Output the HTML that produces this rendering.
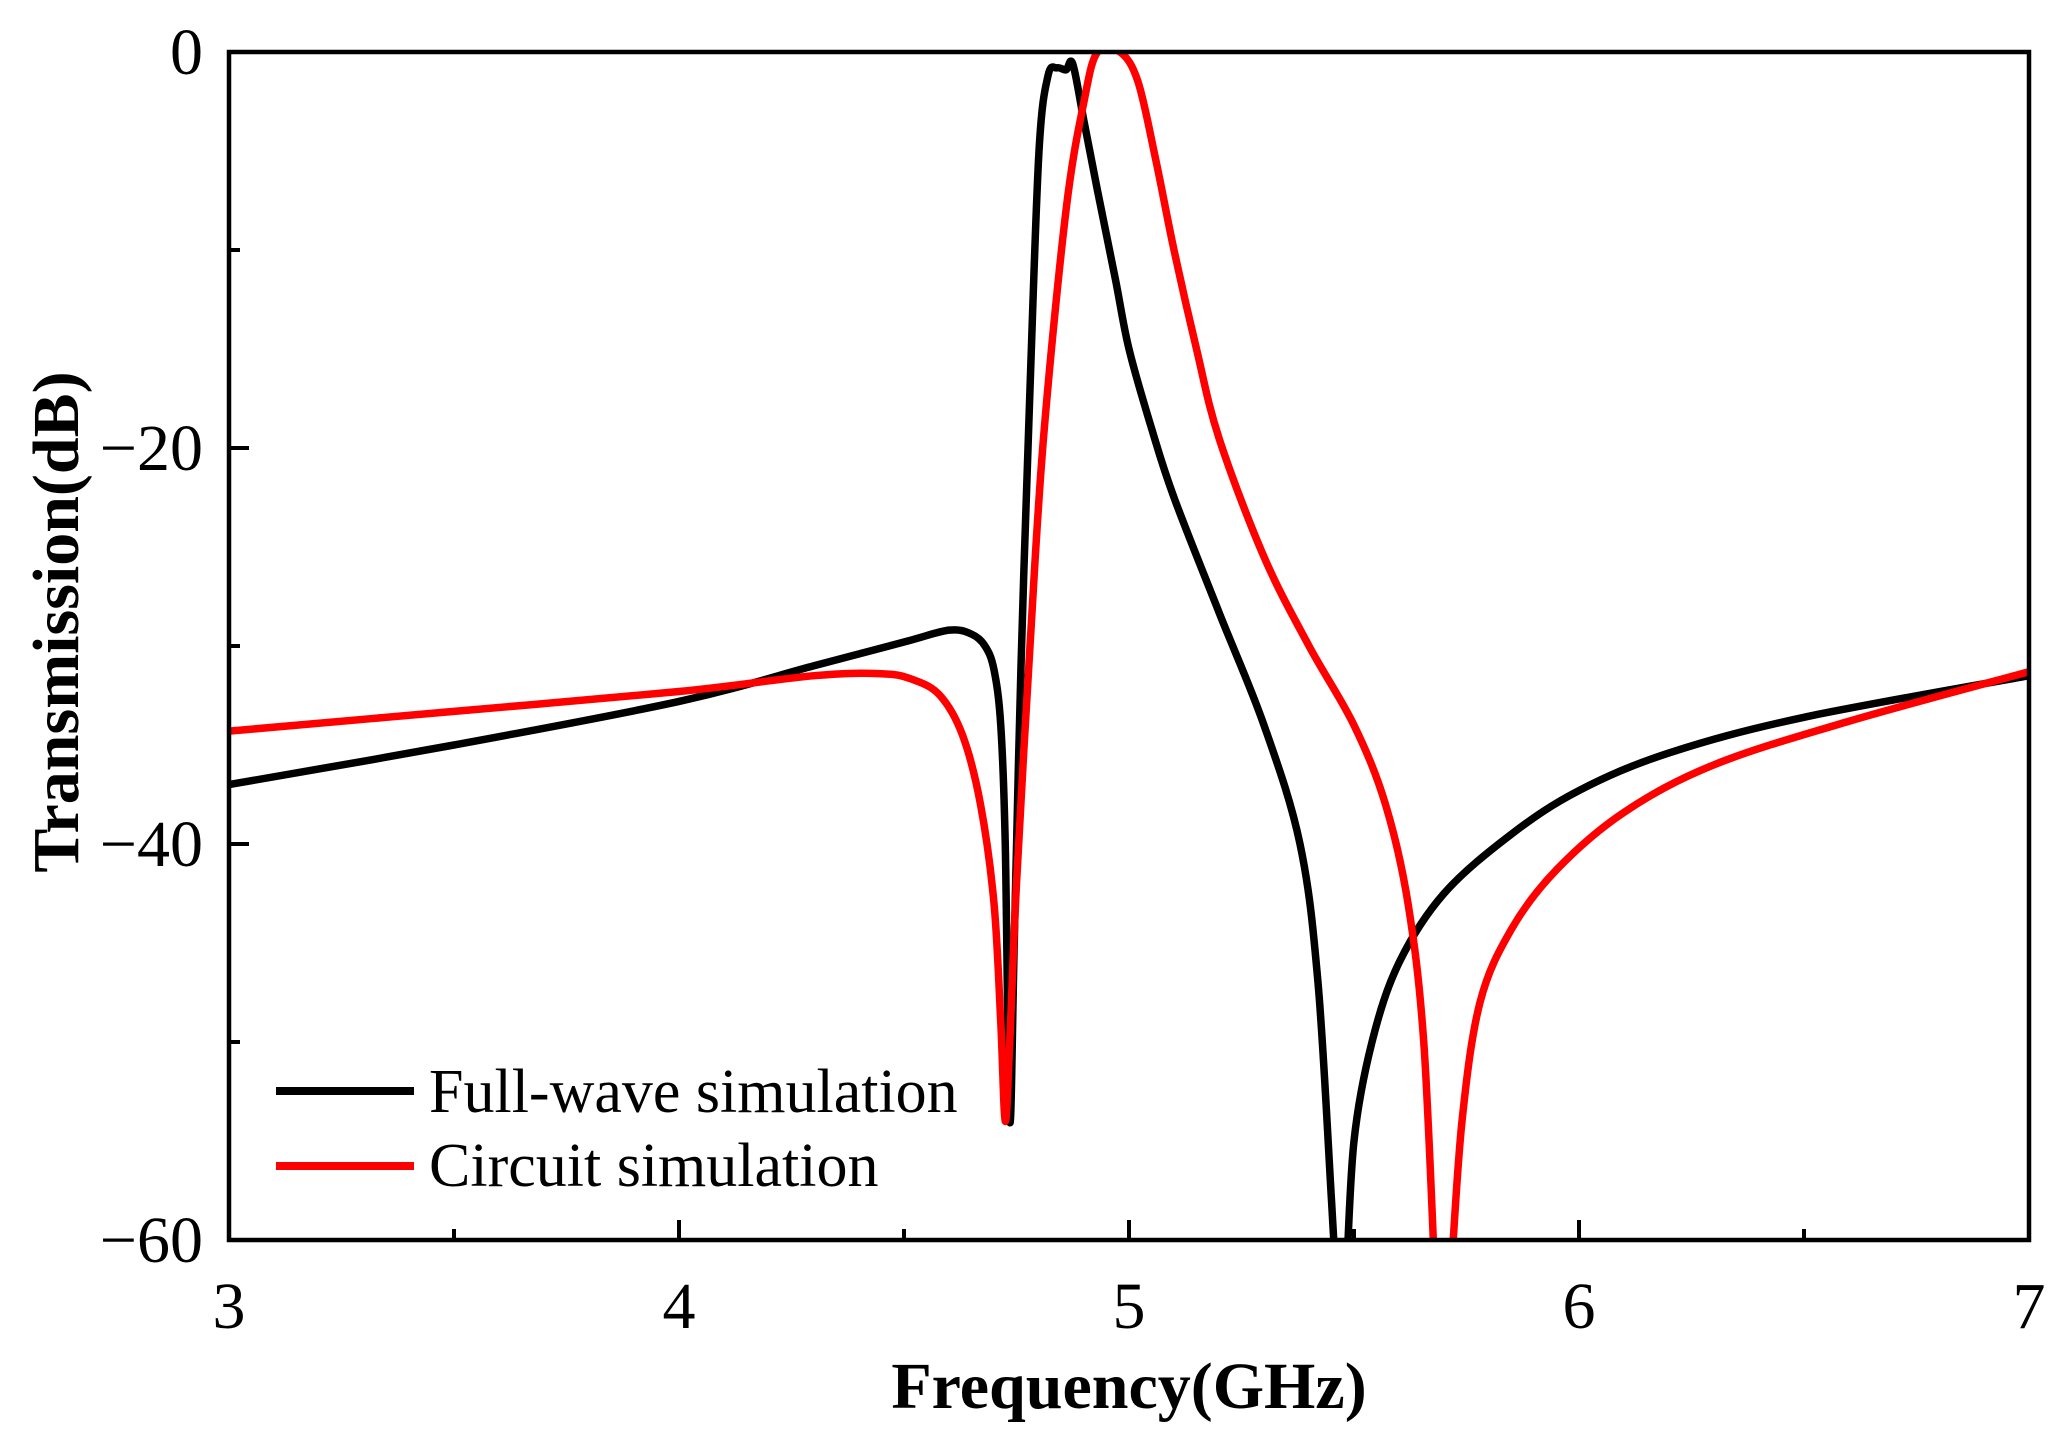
<!DOCTYPE html>
<html><head><meta charset="utf-8"><style>
html,body{margin:0;padding:0;background:#fff}
svg{display:block}
text{font-family:"Liberation Serif",serif;fill:#000}
</style></head><body>
<svg id="s" width="2072" height="1436" viewBox="0 0 2072 1436" xmlns="http://www.w3.org/2000/svg">
<defs><clipPath id="c"><rect x="229" y="52" width="1800" height="1188"/></clipPath></defs>
<g id="ticks" stroke="#000" stroke-width="4"></g>
<g clip-path="url(#c)" fill="none" stroke-width="7.5" stroke-linejoin="round">
<path id="pb" stroke="#000"/>
<path id="pr" stroke="#f00"/>
</g>
<rect x="229" y="52" width="1800" height="1188" fill="none" stroke="#000" stroke-width="4.5"/>
<g font-size="66" text-anchor="end">
<text x="203" y="74">0</text>
<text x="203" y="470">−20</text>
<text x="203" y="866">−40</text>
<text x="203" y="1262">−60</text>
</g>
<g font-size="66" text-anchor="middle">
<text x="229" y="1328">3</text>
<text x="679" y="1328">4</text>
<text x="1129" y="1328">5</text>
<text x="1579" y="1328">6</text>
<text x="2029" y="1328">7</text>
</g>
<text x="1129" y="1408" font-size="66" font-weight="bold" text-anchor="middle">Frequency(GHz)</text>
<text transform="translate(78,622) rotate(-90)" font-size="66" font-weight="bold" text-anchor="middle">Transmission(dB)</text>
<line x1="276" y1="1091" x2="414" y2="1091" stroke="#000" stroke-width="8"/>
<line x1="276" y1="1166" x2="414" y2="1166" stroke="#f00" stroke-width="8"/>
<text x="429" y="1112" font-size="62">Full-wave simulation</text>
<text x="429" y="1186" font-size="62">Circuit simulation</text>
</svg>
<script>
function X(f){return 229+(f-3)*450}
function Y(d){return 52-d*19.8}
var blk=[[3,-37],[3.5,-35],[4,-32.8],[4.3,-31],[4.5,-29.8],[4.6,-29.2],[4.65,-29.4],[4.68,-30],[4.7,-31.2],[4.715,-34],[4.725,-40],[4.735,-54],[4.745,-45],[4.76,-31],[4.78,-17],[4.8,-5],[4.82,-1.2],[4.84,-0.8],[4.86,-0.9],[4.875,-0.6],[4.9,-3.5],[4.93,-7],[4.97,-11.5],[5,-15],[5.05,-19],[5.1,-22.5],[5.2,-28.3],[5.3,-34],[5.38,-40],[5.42,-47],[5.45,-58],[5.46,-62]];
var blk2=[[5.483,-62],[5.5,-55],[5.54,-50],[5.6,-46],[5.7,-42.5],[5.85,-39.5],[6,-37.3],[6.2,-35.4],[6.5,-33.6],[7,-31.5]];
var red=[[3,-34.3],[3.5,-33.3],[4,-32.3],[4.3,-31.5],[4.45,-31.4],[4.52,-31.7],[4.58,-32.5],[4.63,-34.5],[4.67,-38],[4.7,-43],[4.715,-49],[4.725,-54],[4.735,-50],[4.75,-42],[4.78,-30],[4.81,-19.5],[4.86,-8],[4.9,-2.5],[4.93,0],[4.98,0],[5.02,-1.5],[5.06,-5.5],[5.1,-10],[5.15,-15],[5.2,-19.5],[5.3,-25.5],[5.4,-30],[5.5,-34],[5.57,-38],[5.62,-43],[5.655,-50],[5.68,-62]];
var red2=[[5.715,-62],[5.74,-54],[5.78,-48],[5.85,-44.3],[5.95,-41.3],[6.1,-38.4],[6.3,-36],[6.6,-33.8],[7,-31.3]];
function cr(p){var q=p.map(function(a){return [X(a[0]),Y(a[1])]});var d="M"+q[0][0]+","+q[0][1];
for(var i=0;i<q.length-1;i++){var p0=q[Math.max(i-1,0)],p1=q[i],p2=q[i+1],p3=q[Math.min(i+2,q.length-1)];
var t=6;d+=" C"+(p1[0]+(p2[0]-p0[0])/t)+","+(p1[1]+(p2[1]-p0[1])/t)+" "+(p2[0]-(p3[0]-p1[0])/t)+","+(p2[1]-(p3[1]-p1[1])/t)+" "+p2[0]+","+p2[1];}return d;}
document.getElementById("pb").setAttribute("d",cr(blk)+" "+cr(blk2));
document.getElementById("pr").setAttribute("d",cr(red)+" "+cr(red2));
var g=document.getElementById("ticks"),s="";
for(var f=3;f<=7;f+=0.5){var x=X(f),L=(f%1==0)?20:11;s+='<line x1="'+x+'" y1="1240" x2="'+x+'" y2="'+(1240-L)+'"/>';}
for(var d=0;d>=-60;d-=10){var y=Y(d),L=(d%20==0)?20:11;s+='<line x1="229" y1="'+y+'" x2="'+(229+L)+'" y2="'+y+'"/>';}
g.innerHTML=s;
</script>
</body></html>
